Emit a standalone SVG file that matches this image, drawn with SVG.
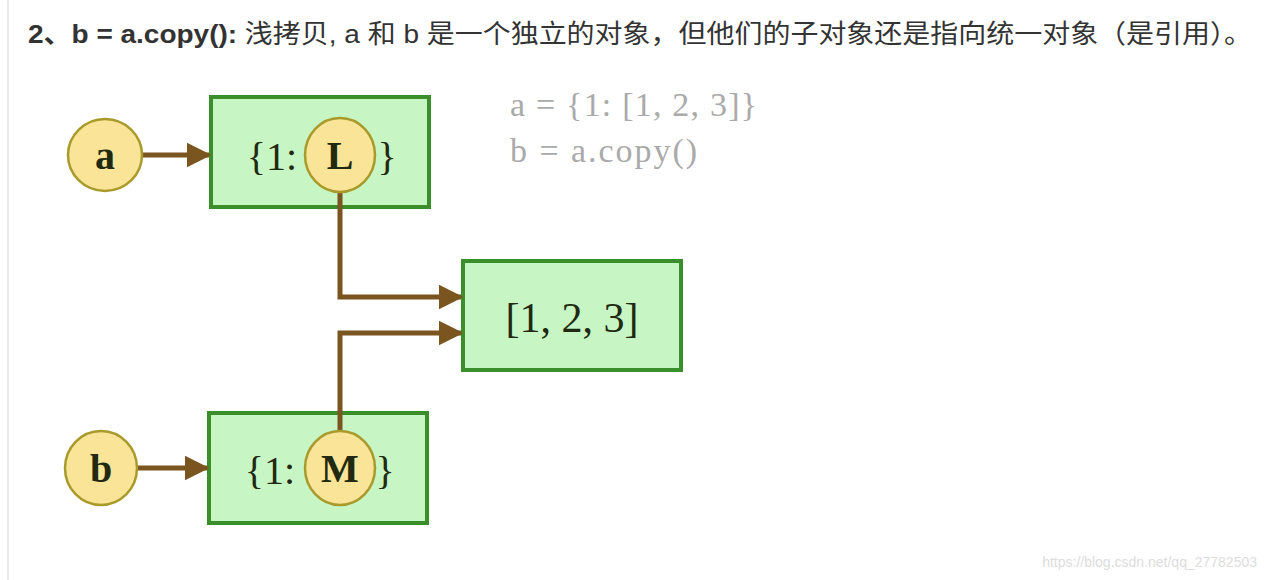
<svg xmlns="http://www.w3.org/2000/svg" width="1266" height="580" viewBox="0 0 1266 580">
<defs>
<style>
.box{fill:#c8f5c4;stroke:#3b8f2a;stroke-width:4}
.cir{fill:#f9e497;stroke:#a99a2c;stroke-width:2.5}
.lbl{font-family:"Liberation Serif",serif;fill:#1f2a10;text-anchor:middle}
.con{fill:none;stroke:#7a5520;stroke-width:5}
.note{font-family:"Liberation Serif",serif;fill:#aaaaaa;font-size:34px}
</style>
<marker id="ar" viewBox="0 0 10 10" refX="9" refY="5" markerWidth="5" markerHeight="5" orient="auto" markerUnits="strokeWidth"><path d="M0,0 L10,5 L0,10 z" fill="#7a5520"/></marker>
</defs>
<rect width="1266" height="580" fill="#ffffff"/>
<line x1="8" y1="0" x2="8" y2="580" stroke="#e8e8e8" stroke-width="2"/>
<text x="28" y="43" font-family="Liberation Sans,'Noto Sans CJK SC',sans-serif" font-size="26" fill="#333" textLength="1224" lengthAdjust="spacingAndGlyphs"><tspan font-weight="bold">2、b = a.copy():</tspan> 浅拷贝, a 和 b 是一个独立的对象，但他们的子对象还是指向统一对象（是引用）。</text>
<text class="note" x="510" y="116" textLength="247">a = {1: [1, 2, 3]}</text>
<text class="note" x="510" y="162" textLength="187">b = a.copy()</text>
<g id="box1"><rect class="box" x="211" y="97" width="218" height="110"/><text class="lbl" x="272" y="170" font-size="40">{1:</text><text class="lbl" x="387" y="170" font-size="40">}</text></g>
<g id="box2"><rect class="box" x="209" y="413" width="218" height="110"/><text class="lbl" x="270" y="484" font-size="40">{1:</text><text class="lbl" x="385" y="484" font-size="40">}</text></g>
<g id="list"><rect class="box" x="463" y="261" width="218" height="109"/><text class="lbl" x="572" y="332" font-size="42">[1, 2, 3]</text></g>
<g id="connectors">
<line class="con" x1="142" y1="155" x2="209" y2="155" marker-end="url(#ar)"/>
<line class="con" x1="138" y1="468" x2="207" y2="468" marker-end="url(#ar)"/>
<path class="con" d="M340,190 V297 H461" marker-end="url(#ar)"/>
<path class="con" d="M340,433 V333 H461" marker-end="url(#ar)"/>
</g>
<g id="a"><ellipse class="cir" cx="105" cy="155" rx="37" ry="36"/><text class="lbl" x="105" y="169" font-size="40" font-weight="bold">a</text></g>
<g id="b"><ellipse class="cir" cx="101" cy="468" rx="36" ry="37"/><text class="lbl" x="101" y="482" font-size="40" font-weight="bold">b</text></g>
<g id="L"><ellipse class="cir" cx="340" cy="155" rx="35" ry="37"/><text class="lbl" x="340" y="169" font-size="40" font-weight="bold">L</text></g>
<g id="M"><ellipse class="cir" cx="340" cy="468" rx="35" ry="37"/><text class="lbl" x="340" y="482" font-size="40" font-weight="bold">M</text></g>
<text x="1257" y="567" text-anchor="end" font-family="Liberation Sans,sans-serif" font-size="14" fill="#dddddd">https://blog.csdn.net/qq_27782503</text>
</svg>
